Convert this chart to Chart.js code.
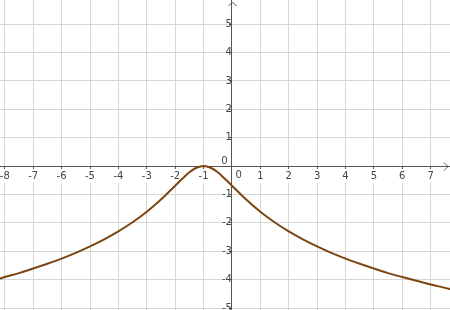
<!DOCTYPE html>
<html>
<head>
<meta charset="utf-8">
<script src="https://cdn.jsdelivr.net/npm/chart.js@4"></script>
<style>
  html, body { margin: 0; padding: 0; background: #fff; }
  #wrap { width: 450px; height: 310px; }
</style>
</head>
<body>
<div id="wrap"><canvas id="mycanvas"></canvas></div>
<script>
// points
var xs = [-8.2, -8, -7.5, -7, -6.5, -6, -5.5, -5, -4.5, -4, -3.5, -3, -2.5, -2, -1.75, -1.5, -1.25, -1,
          -0.75, -0.5, -0.25, 0, 0.5, 1, 1.5, 2, 2.5, 3, 3.5, 4, 4.5, 5, 5.5, 6, 6.5, 7, 7.5, 7.7];
var ys = [-3.97, -3.91, -3.77, -3.61, -3.44, -3.26, -3.06, -2.83, -2.58, -2.30, -1.98, -1.61, -1.18, -0.69, -0.45, -0.22, -0.06, 0,
          -0.06, -0.22, -0.45, -0.69, -1.18, -1.61, -1.98, -2.30, -2.58, -2.83, -3.06, -3.26, -3.44, -3.61, -3.77, -3.91, -4.04, -4.17, -4.29, -4.34];

// tick labels on the axes
var xTicks = [-8, -7, -6, -5, -4, -3, -2, -1, 0, 1, 2, 3, 4, 5, 6, 7];
var yTicks = [-5, -4, -3, -2, -1, 0, 1, 2, 3, 4, 5];

// visible window
var xMin = -8.17, xMax = 7.68;
var yMin = -5.07, yMax = 5.85;

var axisColor = '#555555';
var gridColor = '#d6d6d6';
var labelColor = '#444444';
var labelFont = { family: 'DejaVu Sans', size: 10 };

var points = [];
for (var i in xs) {
	points.push({ x: xs[i], y: ys[i] });
}

function noPad(scale) {
	scale.paddingLeft = 0;
	scale.paddingRight = 0;
	scale.paddingTop = 0;
	scale.paddingBottom = 0;
}

function setTicks(list) {
	return function(scale) {
		scale.ticks = list.map(function(v) { return { value: v }; });
	};
}

// arrows on the axes and the two "0" labels
var axisExtras = {
	id: 'axisExtras',
	afterDraw: function(chart) {
		var ctx = chart.ctx;
		var sx = chart.scales.x, sy = chart.scales.y;
		var ox = Math.round(sx.getPixelForValue(0)) + 0.5;
		var oy = Math.round(sy.getPixelForValue(0)) + 0.5;
		var area = chart.chartArea;
		ctx.save();
		ctx.strokeStyle = axisColor;
		ctx.lineWidth = 1;
		ctx.beginPath();
		ctx.moveTo(area.right - 6, oy - 4);
		ctx.lineTo(area.right - 2, oy);
		ctx.lineTo(area.right - 6, oy + 4);
		ctx.moveTo(ox - 4, area.top + 6);
		ctx.lineTo(ox, area.top + 2);
		ctx.lineTo(ox + 4, area.top + 6);
		ctx.stroke();
		ctx.fillStyle = labelColor;
		ctx.font = '10px "DejaVu Sans"';
		ctx.textAlign = 'right';
		ctx.textBaseline = 'bottom';
		ctx.fillText('0', ox - 5, oy - 0.5);
		ctx.textAlign = 'left';
		ctx.textBaseline = 'top';
		ctx.fillText('0', ox + 3, oy + 4);
		ctx.restore();
	}
};

var chartdata = {
	datasets: [
		{
			data: points,
			borderColor: '#7c4512',
			borderWidth: 2,
			pointRadius: 0,
			showLine: true,
			fill: false,
			cubicInterpolationMode: 'monotone'
		}
	]
};

var ctx = document.getElementById('mycanvas');

var graph = new Chart(ctx, {
	type: 'scatter',
	data: chartdata,
	plugins: [axisExtras],
	options: {
		responsive: true,
		maintainAspectRatio: false,
		animation: false,
		events: [],
		layout: { padding: 0 },
		plugins: {
			legend: { display: false },
			tooltip: { enabled: false }
		},
		scales: {
			x: {
				type: 'linear',
				min: xMin,
				max: xMax,
				position: { y: 0 },
				afterBuildTicks: setTicks(xTicks),
				afterFit: noPad,
				grid: { color: gridColor, tickColor: axisColor, tickLength: 2 },
				border: { color: axisColor, width: 1 },
				ticks: {
					padding: 2,
					color: labelColor,
					font: labelFont,
					maxRotation: 0,
					autoSkip: false,
					showLabelBackdrop: true,
					backdropColor: '#ffffff',
					backdropPadding: 1,
					callback: function(v) { return v === 0 ? '' : v; }
				}
			},
			y: {
				type: 'linear',
				min: yMin,
				max: yMax,
				position: { x: 0 },
				afterBuildTicks: setTicks(yTicks),
				afterFit: noPad,
				grid: { color: gridColor, tickColor: axisColor, tickLength: 2 },
				border: { color: axisColor, width: 1 },
				ticks: {
					padding: 3,
					color: labelColor,
					font: labelFont,
					autoSkip: false,
					callback: function(v) { return v === 0 ? '' : v; }
				}
			}
		}
	}
});
</script>
</body>
</html>
